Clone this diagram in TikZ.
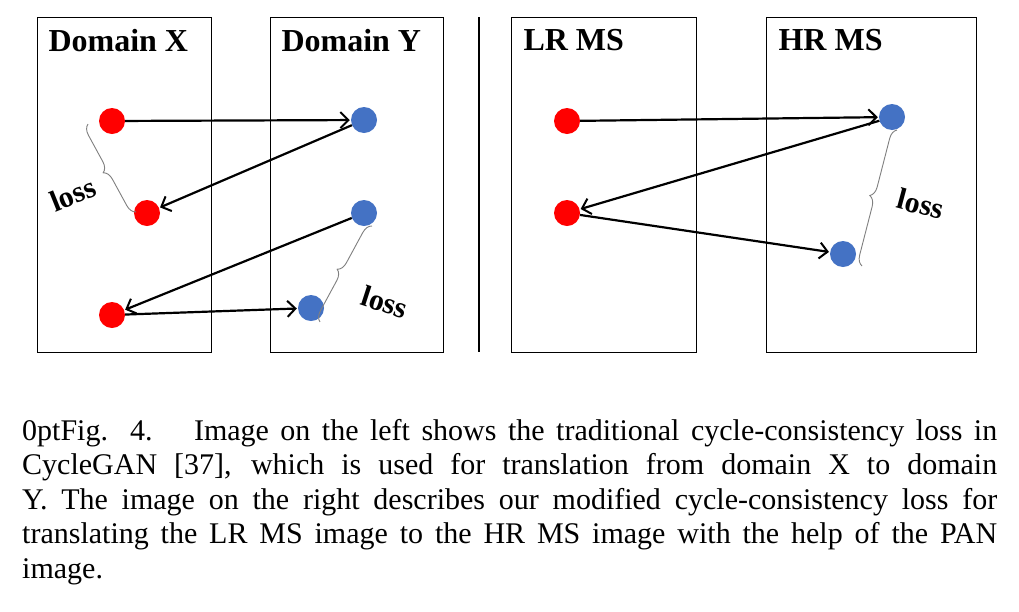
\documentclass[tikz,border=0pt]{standalone}
\usepackage{fontspec}
\setmainfont{Liberation Serif}
\usetikzlibrary{arrows.meta,decorations.pathreplacing}
\begin{document}
\begin{tikzpicture}[x=1pt,y=-1pt,
  panel/.style={draw,line width=1.4pt},
  red dot/.style={circle,fill=red,minimum size=26pt,inner sep=0pt},
  blue dot/.style={circle,fill={rgb,255:red,68;green,114;blue,196},minimum size=26pt,inner sep=0pt},
  link/.style={line width=2.2pt,-{Straight Barb[length=8pt,width=16pt,line width=2pt]},shorten >=1pt},
  title/.style={font=\fontsize{32}{34}\selectfont\bfseries,anchor=north west},
  losstext/.style={font=\fontsize{30}{32}\selectfont\bfseries},
  brc/.style={draw=gray,line width=0.9pt,decorate,decoration={brace,amplitude=10pt}}]
\useasboundingbox[fill=white] (0,0) rectangle (1019,611);
\node[panel,minimum width=174pt,minimum height=335pt,anchor=north west] (bx) at (37,17) {};
\node[panel,minimum width=173pt,minimum height=335pt,anchor=north west] (by) at (270,17) {};
\node[panel,minimum width=185pt,minimum height=335pt,anchor=north west] (blr) at (511,17) {};
\node[panel,minimum width=210pt,minimum height=335pt,anchor=north west] (bhr) at (766,17) {};
\coordinate (d1) at (479,17); \coordinate (d2) at (479,352);
\draw[line width=2pt] (d1) -- (d2);
\node[title] (tx) at (45,26) {Domain X};
\node[title] (ty) at (278,26) {Domain Y};
\node[title] (tlr) at (520,26) {LR MS};
\node[title] (thr) at (775,26) {HR MS};
\node[red dot] (a1) at (112,121) {};
\node[blue dot] (b1) at (364,120) {};
\node[red dot] (a2) at (147,213) {};
\node[blue dot] (b2) at (364,213) {};
\node[red dot] (a3) at (112,315) {};
\node[blue dot] (b3) at (311,308) {};
\draw[link] (a1) -- (b1);
\draw[link] (b1) -- (a2);
\draw[link] (b2) -- (a3);
\draw[link] (a3) -- (b3);
\node[red dot] (c1) at (567,121) {};
\node[blue dot] (e1) at (892,117) {};
\node[red dot] (c2) at (567,213) {};
\node[blue dot] (e2) at (843,254) {};
\draw[link] (c1) -- (e1);
\draw[link] (e1) -- (c2);
\draw[link] (c2) -- (e2);
\coordinate (p1) at (88,124); \coordinate (p2) at (136,212);
\draw[brc,decoration={mirror}] (p1) -- (p2);
\coordinate (q1) at (372,226); \coordinate (q2) at (320,322);
\draw[brc,decoration={mirror}] (q1) -- (q2);
\coordinate (r1) at (897,130); \coordinate (r2) at (862,266);
\draw[brc,decoration={mirror}] (r1) -- (r2);
\node[losstext,rotate=22,inner sep=0pt] (l1) at (73,194) {loss};
\node[losstext,rotate=-18,inner sep=0pt] (l2) at (385,302) {loss};
\node[losstext,rotate=-15,inner sep=0pt] (l3) at (921,204) {loss};
\node[anchor=north west,text width=975pt,align=justify,inner sep=0pt,
  font=\fontsize{30}{34.5}\selectfont\hyphenpenalty=10000\relax] (cap) at (22,419)
  {Fig. 4.\quad\ Image on the left shows the traditional cycle-consistency loss in\linebreak CycleGAN [37], which is used for translation from domain X to domain\linebreak Y. The image on the right describes our modified cycle-consistency loss for\linebreak translating the LR MS image to the HR MS image with the help of the PAN\linebreak image.};
\end{tikzpicture}
\end{document}
